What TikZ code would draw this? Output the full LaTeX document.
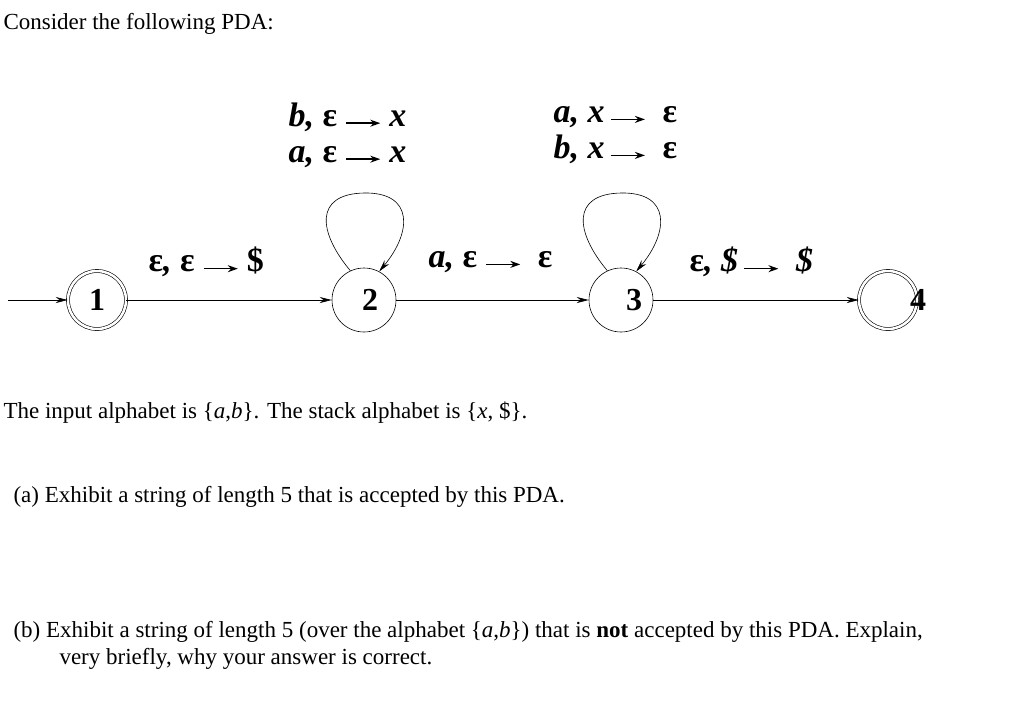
\documentclass[tikz,border=0pt]{standalone}
\usepackage{amsmath}
\usepackage{fontspec}
\setmainfont{Liberation Serif}
\usetikzlibrary{arrows.meta}
\newcommand{\arr}{\tikz[baseline=-3pt]\draw[line width=1.4pt,-{Stealth[length=10pt,width=7pt]}] (0,0) -- (34pt,0);}
\begin{document}
\begin{tikzpicture}[x=1pt,y=-1pt,
  st/.style={circle,draw,line width=0.6pt,minimum size=64pt,inner sep=0pt},
  acc/.style={st,double,double distance=2.5pt,minimum size=58pt},
  lab/.style={font=\fontsize{34}{36}\selectfont\bfseries\itshape,anchor=west},
  txt/.style={font=\fontsize{23}{27}\selectfont,anchor=west,align=left},
  edge/.style={line width=0.6pt,-{Stealth[length=12pt,width=6pt]}}]
\useasboundingbox (0,0) rectangle (1024,713);
\node[txt] (t0) at (0,24) {Consider the following PDA:};
\node[acc] (s1) at (97,300) {};
\node[font=\fontsize{32}{34}\selectfont\bfseries] at (97,300) {1};
\node[st] (s2) at (364,300) {};
\node[font=\fontsize{32}{34}\selectfont\bfseries] at (370,300) {2};
\node[st] (s3) at (621,300) {};
\node[font=\fontsize{32}{34}\selectfont\bfseries] at (634,300) {3};
\node[acc] (s4) at (888,300) {};
\node[font=\fontsize{32}{34}\selectfont\bfseries] at (918,300) {4};
\coordinate (in) at (8,300);
\draw[edge] (in) -- (s1);
\draw[edge] (s1) -- (s2);
\draw[edge] (s2) -- (s3);
\draw[edge] (s3) -- (s4);
\draw[edge] (s2.115) .. controls (318,232) and (314,194) .. (364,193) .. controls (414,192) and (412,232) .. (s2.62);
\draw[edge] (s3.115) .. controls (575,232) and (571,194) .. (621,193) .. controls (671,192) and (669,232) .. (s3.62);
\node[lab] (l1) at (145,262) {\upshape ε\itshape, \upshape ε \arr\ \$};
\node[lab] (l2) at (425,262) {a, \upshape ε \arr\ \ ε};
\node[lab] (l3) at (686,262) {\upshape ε\itshape, \$\,\arr\ \ \$};
\node[lab,align=left] (l4) at (285,135) {b, \upshape ε \arr\ \itshape x\\a, \upshape ε \arr\ \itshape x};
\node[lab,align=left] (l5) at (550,135) {a, x\,\arr\ \ \upshape ε\\b, x\,\arr\ \ \upshape ε};
\node[txt] (t1) at (0,413) {The input alphabet is \{\textit{a},\textit{b}\}. The stack alphabet is \{\textit{x}, \$\}.};
\node[txt] (t2) at (10,497) {(a) Exhibit a string of length 5 that is accepted by this PDA.};
\node[txt] (t3) at (10,645) {(b) Exhibit a string of length 5 (over the alphabet \{\textit{a},\textit{b}\}) that is \textbf{not} accepted by this PDA. Explain,\\\hspace*{46pt}very briefly, why your answer is correct.};
\end{tikzpicture}
\end{document}
